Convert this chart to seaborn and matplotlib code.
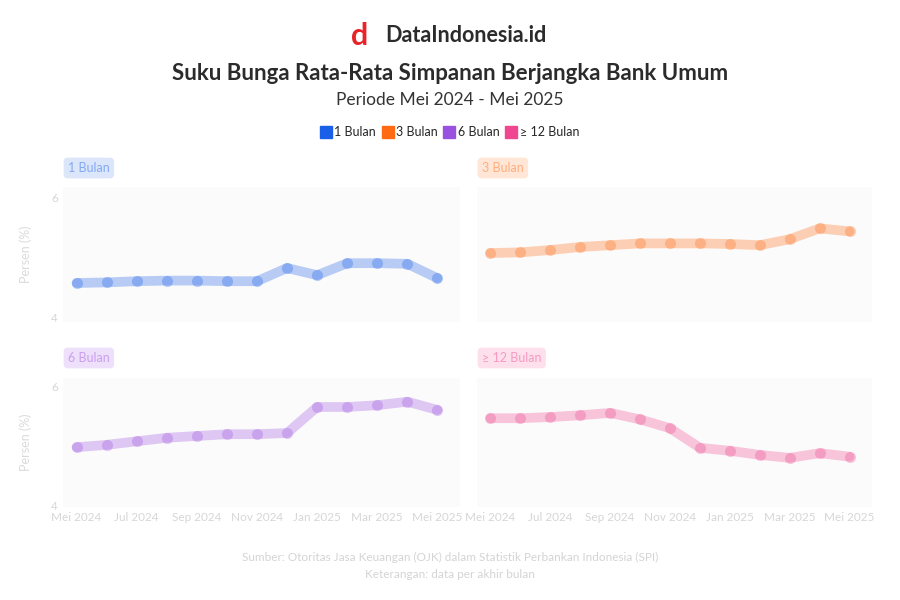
import numpy as np
import pandas as pd
import seaborn as sns
import matplotlib.pyplot as plt
from matplotlib.lines import Line2D

# data (persen), Mei 2024 - Mei 2025
months = ["Mei 2024", "Jun 2024", "Jul 2024", "Agu 2024", "Sep 2024", "Okt 2024", "Nov 2024",
          "Des 2024", "Jan 2025", "Feb 2025", "Mar 2025", "Apr 2025", "Mei 2025"]
bulan_1 = [4.57, 4.58, 4.60, 4.61, 4.61, 4.60, 4.60, 4.82, 4.70, 4.90, 4.90, 4.89, 4.65]
bulan_3 = [5.07, 5.08, 5.12, 5.17, 5.20, 5.23, 5.23, 5.23, 5.22, 5.20, 5.30, 5.48, 5.43]
bulan_6 = [4.98, 5.02, 5.08, 5.14, 5.17, 5.20, 5.20, 5.22, 5.66, 5.66, 5.69, 5.75, 5.61]
bulan_12 = [5.47, 5.47, 5.49, 5.52, 5.56, 5.45, 5.30, 4.97, 4.92, 4.85, 4.80, 4.88, 4.82]

series_names = ["1 Bulan", "3 Bulan", "6 Bulan", "\u2265 12 Bulan"]
series_values = [bulan_1, bulan_3, bulan_6, bulan_12]
colors = ["#1a5fe8", "#ff6a13", "#9b51e0", "#f0468f"]
light_colors = ["#dbe6fb", "#ffe6d6", "#eee0fa", "#fde0ec"]
tick_idx = [0, 2, 4, 6, 8, 10, 12]

sns.set_theme(style="white")
plt.rcParams["font.family"] = ["Lato", "DejaVu Sans"]

fig = plt.figure(figsize=(9, 6), dpi=100)
W, H = 900, 600


def px_axes(x0, y0, x1, y1):
    return fig.add_axes([x0 / W, 1 - y1 / H, (x1 - x0) / W, (y1 - y0) / H])


boxes = [(63, 187, 460, 322), (477, 187, 872, 322),
         (63, 378, 460, 507), (477, 378, 872, 507)]
ylims = [(3.92, 6.17), (3.92, 6.17), (3.97, 6.15), (3.97, 6.15)]
label_pos = [(68, 168), (482, 168), (68, 358), (482, 358)]

for i, (name, vals) in enumerate(zip(series_names, series_values)):
    ax = px_axes(*boxes[i])
    df = pd.DataFrame({"x": np.arange(len(months)), "y": vals})
    sns.lineplot(data=df, x="x", y="y", ax=ax, color=colors[i], alpha=0.3,
                 linewidth=7, marker="o", markersize=8, markeredgewidth=0)
    ax.set_facecolor("#fbfbfb")
    for s in ax.spines.values():
        s.set_visible(False)
    ax.set_xlim(-0.45, 12.75)
    ax.set_ylim(*ylims[i])
    ax.set_xlabel("")
    ax.set_ylabel("")
    ax.set_yticks([4, 6])
    ax.set_xticks(tick_idx)
    ax.tick_params(length=0, labelsize=8.5, colors="#d6d6d6")
    if i % 2 == 0:
        ax.set_yticklabels(["4", "6"])
        ax.set_ylabel("Persen (%)", fontsize=9, color="#dadada", labelpad=14)
    else:
        ax.set_yticklabels([])
    if i >= 2:
        ax.set_xticklabels([months[k] for k in tick_idx])
    else:
        ax.set_xticklabels([])
    fig.text(label_pos[i][0] / W, 1 - label_pos[i][1] / H, name, fontsize=9,
             color=colors[i], alpha=0.45, va="center", ha="left",
             bbox=dict(boxstyle="round,pad=0.35", fc=light_colors[i], ec="none"))

# header
fig.text(360 / W, 1 - 36 / H, "d", fontsize=22, fontweight="bold", color="#e8232a",
         ha="center", va="center")
fig.text(385 / W, 1 - 35 / H, "DataIndonesia.id", fontsize=15.5, fontweight="bold",
         color="#2b2b2b", ha="left", va="center")
fig.text(0.5, 1 - 74 / H, "Suku Bunga Rata-Rata Simpanan Berjangka Bank Umum",
         fontsize=16, fontweight="bold", color="#2b2b2b", ha="center", va="center")
fig.text(0.5, 1 - 100 / H, "Periode Mei 2024 - Mei 2025", fontsize=12.5,
         color="#333333", ha="center", va="center")

handles = [Line2D([0], [0], marker="s", linestyle="none", markersize=9,
                  markerfacecolor=c, markeredgecolor=c) for c in colors]
fig.legend(handles, series_names, loc="center", bbox_to_anchor=(0.5, 1 - 132 / H),
           ncol=4, frameon=False, fontsize=9, handletextpad=0.3, columnspacing=0.5,
           handlelength=0.8)

fig.text(0.5, 1 - 557 / H,
         "Sumber: Otoritas Jasa Keuangan (OJK) dalam Statistik Perbankan Indonesia (SPI)",
         fontsize=8.5, color="#d4d4d4", ha="center", va="center")
fig.text(0.5, 1 - 575 / H, "Keterangan: data per akhir bulan",
         fontsize=8.5, color="#d4d4d4", ha="center", va="center")

fig.savefig("out.png", dpi=100, facecolor="white")
